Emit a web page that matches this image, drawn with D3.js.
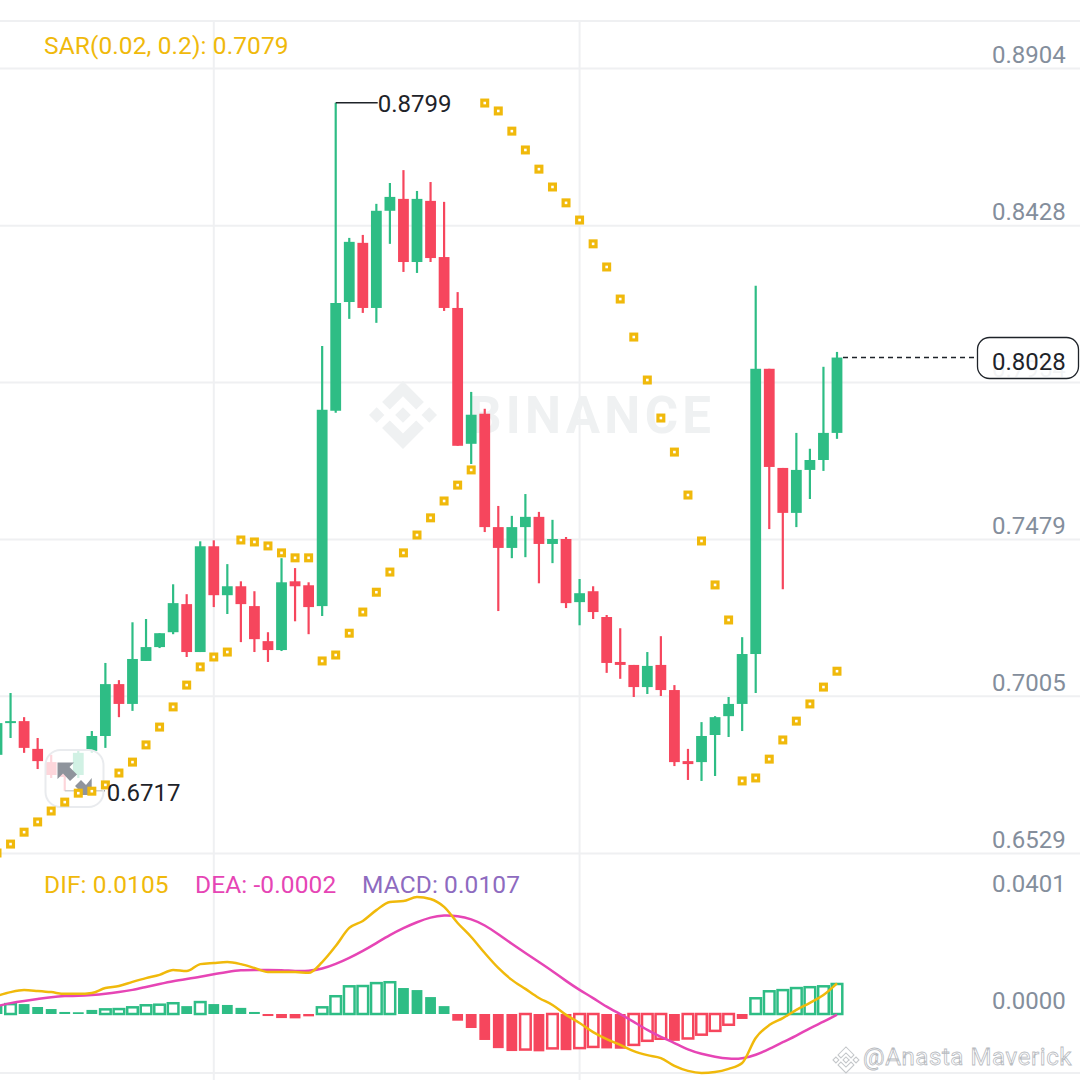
<!DOCTYPE html>
<html>
<head>
<meta charset="utf-8">
<title>SAR MACD</title>
<script src="https://d3js.org/d3.v7.min.js"></script>
<style>
html, body { margin: 0; background: #fff; }
svg { display: block; }
text { font-family: Roboto, sans-serif; }
</style>
</head>
<body>
<div id="my_dataviz"></div>
<script>
// candles, oldest first
var opens = [.6826,.6922,.6928,.6844,.6804,.6777,.6765,.6838,.6883,.7040,.6980,.7110,.7152,.7197,.7282,.7137,.7457,.7309,.7336,.7276,.7170,.7143,.7351,.7339,.7276,.7867,.8196,.8375,.8178,.8472,.8508,.8317,.8502,.8332,.8178,.7767,.7858,.7515,.7452,.7515,.7546,.7464,.7479,.7288,.7321,.7243,.7107,.7098,.7031,.7098,.7022,.6807,.6804,.6886,.6943,.6980,.7131,.7994,.7694,.7558,.7688,.7718,.7800];
var highs = [.6947,.7013,.6940,.6877,.6826,.6786,.6841,.6898,.7104,.7052,.7227,.7237,.7194,.7342,.7312,.7472,.7475,.7403,.7351,.7321,.7197,.7421,.7391,.7348,.8063,.8799,.8390,.8399,.8493,.8556,.8595,.8532,.8559,.8499,.8226,.7924,.7873,.7579,.7549,.7615,.7561,.7537,.7485,.7358,.7336,.7249,.7209,.7098,.7137,.7185,.7037,.6844,.6925,.6943,.7001,.7182,.8245,.7994,.7694,.7800,.7752,.8000,.8045];
var lows = [.6810,.6877,.6832,.6783,.6756,.6717,.6756,.6832,.6847,.6940,.6959,.7110,.7149,.7191,.7122,.7137,.7273,.7252,.7167,.7137,.7107,.7140,.7230,.7191,.7246,.7861,.8145,.8163,.8133,.8372,.8287,.8284,.8317,.8169,.7761,.7706,.7500,.7261,.7421,.7424,.7345,.7406,.7270,.7218,.7237,.7074,.7056,.7001,.7010,.7004,.6792,.6750,.6747,.6762,.6880,.6898,.7013,.7509,.7327,.7515,.7600,.7685,.7782];
var closes = [.6922,.6928,.6847,.6807,.6765,.6759,.6832,.6883,.7040,.6980,.7116,.7152,.7194,.7285,.7137,.7457,.7309,.7336,.7282,.7176,.7143,.7348,.7336,.7273,.7870,.8193,.8378,.8178,.8472,.8514,.8317,.8508,.8329,.8178,.7761,.7855,.7515,.7452,.7515,.7546,.7464,.7479,.7285,.7315,.7258,.7104,.7098,.7031,.7095,.7022,.6804,.6798,.6883,.6940,.6980,.7131,.7994,.7697,.7558,.7688,.7718,.7800,.8028];

var sar = [.6529,.6556,.6592,.6623,.6656,.6683,.6710,.6716,.6735,.6771,.6804,.6856,.6910,.6971,.7037,.7092,.7122,.7137,.7476,.7470,.7458,.7437,.7422,.7422,.7110,.7128,.7194,.7258,.7318,.7379,.7437,.7491,.7543,.7594,.7642,.7688,.8798,.8774,.8713,.8656,.8598,.8544,.8496,.8444,.8372,.8302,.8205,.8090,.7960,.7845,.7742,.7612,.7473,.7340,.7234,.6747,.6756,.6813,.6871,.6928,.6980,.7031,.7079];

var dif = [.0062,.0075,.0082,.0079,.0075,.0069,.0069,.0072,.0089,.0096,.0110,.0123,.0134,.0151,.0147,.0171,.0175,.0178,.0171,.0158,.0144,.0144,.0144,.0141,.0178,.0233,.0295,.0319,.0356,.0384,.0387,.0401,.0394,.0367,.0312,.0264,.0209,.0158,.0117,.0086,.0055,.0031,-.0003,-.0031,-.0062,-.0086,-.0106,-.0127,-.0141,-.0151,-.0178,-.0195,-.0202,-.0199,-.0188,-.0168,-.0082,-.0038,-.0014,.0014,.0038,.0065,.0105];
var dea = [.0027,.0038,.0045,.0051,.0058,.0062,.0062,.0065,.0069,.0075,.0082,.0093,.0103,.0113,.0120,.0127,.0137,.0144,.0151,.0151,.0151,.0151,.0147,.0147,.0154,.0171,.0192,.0216,.0243,.0271,.0295,.0315,.0332,.0339,.0336,.0326,.0305,.0274,.0240,.0209,.0178,.0147,.0113,.0082,.0055,.0024,.0000,-.0027,-.0055,-.0079,-.0099,-.0123,-.0137,-.0147,-.0154,-.0154,-.0141,-.0120,-.0096,-.0075,-.0048,-.0027,-.0002];
var hist = [.0031,.0038,.0034,.0024,.0017,.0007,.0006,.0014,.0020,.0021,.0027,.0034,.0036,.0041,.0027,.0045,.0034,.0031,.0021,.0007,-.0007,-.0014,-.0015,-.0008,.0027,.0065,.0099,.0100,.0110,.0113,.0089,.0082,.0058,.0027,-.0023,-.0048,-.0089,-.0117,-.0127,-.0126,-.0128,-.0122,-.0124,-.0121,-.0117,-.0118,-.0119,-.0110,-.0096,-.0089,-.0092,-.0088,-.0075,-.0062,-.0041,-.0017,.0058,.0082,.0086,.0093,.0096,.0099,.0107];

var priceTicks = [.8904,.8428,.7954,.7479,.7005,.6529];
var macdTicks = [.0401,0];
var timeGrid = [16,43];

var width = 1080, height = 1080;
var green = "#2ebd85", red = "#f6465d", gold = "#f0b90b", pink = "#e645b5", purple = "#8e6bbf";
var gridColor = "#eff0f2", axisColor = "#848e9c", ink = "#1e2329";
var logoPath = "M38.73 53.2L63.3 28.63l24.58 24.58 14.3-14.3L63.3 0 24.43 38.9l14.3 14.3zM0 63.3l14.3-14.3 14.3 14.3-14.3 14.3zM38.73 73.4l24.57 24.57 24.58-24.57 14.31 14.29-38.89 38.9-38.9-38.88zM98 63.3l14.3-14.3 14.3 14.3-14.3 14.3zM77.8 63.3L63.3 48.8 52.6 59.5l-1.24 1.23-2.53 2.54 14.47 14.46 14.5-14.5z";

var svg = d3.select("#my_dataviz").append("svg")
  .attr("width", width)
  .attr("height", height);

var x = d3.scaleLinear().domain([0, 62]).range([-3, 837]);
var y = d3.scaleLinear().domain([.8904, .6529]).range([68, 853]);
var macdY = d3.scaleLinear().domain([.0401, 0]).range([897, 1014]);

// plain hyphen for negatives, as on the exchange screen
var f4 = function(v) { return d3.format(".4f")(v).replace("\u2212", "-"); };

// grid + right labels
function styleAxis(g) {
  g.select(".domain").remove();
  g.selectAll(".tick line").attr("stroke", gridColor).attr("stroke-width", 2);
  g.selectAll(".tick text")
    .attr("x", 992).attr("y", -14).attr("dy", ".35em")
    .attr("text-anchor", "start")
    .attr("fill", axisColor)
    .style("font-size", "24px");
}
svg.append("g")
  .call(d3.axisRight(y).tickValues(priceTicks).tickSize(width).tickFormat(f4))
  .call(styleAxis);
var macdAxis = svg.append("g")
  .call(d3.axisRight(macdY).tickValues(macdTicks).tickSize(width).tickFormat(f4))
  .call(styleAxis);
macdAxis.selectAll(".tick line").remove();

svg.selectAll(".vgrid").data(timeGrid).enter().append("line")
  .attr("class", "vgrid")
  .attr("x1", function(d) { return x(d); })
  .attr("x2", function(d) { return x(d); })
  .attr("y1", 21).attr("y2", height)
  .attr("stroke", gridColor).attr("stroke-width", 2);
svg.selectAll(".hedge").data([21, 1073]).enter().append("line")
  .attr("x1", 0).attr("x2", width)
  .attr("y1", function(d) { return d; }).attr("y2", function(d) { return d; })
  .attr("stroke", gridColor).attr("stroke-width", 2);

// BINANCE watermark
svg.append("path").attr("d", logoPath)
  .attr("transform", "translate(369,381) scale(.537)")
  .attr("fill", "#eff1f2");
svg.append("text").attr("x", 469).attr("y", 433)
  .attr("fill", "#eff1f2")
  .style("font-size", "51px").style("font-weight", 700).style("letter-spacing", "4.3px")
  .text("BINANCE");

// candles
var isUp = function(i) { return closes[i] >= opens[i]; };
svg.append("g").selectAll("line").data(opens).enter().append("line")
  .attr("x1", function(d, i) { return x(i); })
  .attr("x2", function(d, i) { return x(i); })
  .attr("y1", function(d, i) { return y(highs[i]); })
  .attr("y2", function(d, i) { return y(lows[i]); })
  .attr("stroke", function(d, i) { return isUp(i) ? green : red; })
  .attr("stroke-width", 2.2);
svg.append("g").selectAll("rect").data(opens).enter().append("rect")
  .attr("x", function(d, i) { return x(i) - 5.4; })
  .attr("width", 10.8)
  .attr("y", function(d, i) { return y(Math.max(opens[i], closes[i])); })
  .attr("height", function(d, i) { return Math.max(1.5, Math.abs(y(opens[i]) - y(closes[i]))); })
  .attr("fill", function(d, i) { return isUp(i) ? green : red; });

// low marker sits under the expand button
var lowIdx = d3.minIndex(lows), highIdx = d3.maxIndex(highs);
svg.append("line")
  .attr("x1", x(lowIdx)).attr("x2", x(lowIdx) + 40)
  .attr("y1", y(lows[lowIdx])).attr("y2", y(lows[lowIdx]))
  .attr("stroke", ink).attr("stroke-width", 1.5);

// expand button
svg.append("rect")
  .attr("x", 45.5).attr("y", 750).attr("width", 58).attr("height", 57).attr("rx", 15)
  .attr("fill", "rgba(255,255,255,.78)")
  .attr("stroke", "#e9ebee").attr("stroke-width", 2);
svg.append("path")
  .attr("d", "M57.5 762.5H74L69.5 767L77 774.5L70 781L63 773.500L57.5 779Z")
  .attr("fill", "#8f949c");
svg.append("path")
  .attr("d", "M91.700 795H75L79.500 790.500L75 786L81 780L86 785L91.700 778Z")
  .attr("fill", "#8f949c");

// SAR dots
svg.append("g").selectAll("rect").data(sar).enter().append("rect")
  .attr("x", function(d, i) { return x(i) - 2.9; })
  .attr("y", function(d) { return y(d) - 2.9; })
  .attr("width", 5.8).attr("height", 5.8)
  .attr("fill", "#fff").attr("stroke", gold).attr("stroke-width", 3.2);

// high / low labels
svg.append("line")
  .attr("x1", x(highIdx)).attr("x2", x(highIdx) + 42)
  .attr("y1", y(highs[highIdx])).attr("y2", y(highs[highIdx]))
  .attr("stroke", ink).attr("stroke-width", 1.5);
svg.append("text").attr("x", x(highIdx) + 42).attr("y", y(highs[highIdx]) + 1).attr("dy", ".36em")
  .attr("fill", ink).style("font-size", "24px")
  .text(f4(highs[highIdx]));
svg.append("text").attr("x", x(lowIdx) + 42).attr("y", y(lows[lowIdx]) + 1.5).attr("dy", ".36em")
  .attr("fill", ink).style("font-size", "24px")
  .text(f4(lows[lowIdx]));

// last price
var lastClose = closes[closes.length - 1], lastX = x(closes.length - 1);
svg.append("line")
  .attr("x1", lastX + 6).attr("x2", 977)
  .attr("y1", y(lastClose)).attr("y2", y(lastClose))
  .attr("stroke", ink).attr("stroke-width", 1.5).attr("stroke-dasharray", "5 4");
svg.append("rect")
  .attr("x", 977.5).attr("y", 337.5).attr("width", 101).attr("height", 41).attr("rx", 12)
  .attr("fill", "rgba(255,255,255,.9)")
  .attr("stroke", ink).attr("stroke-width", 1.3);
svg.append("text").attr("x", 992).attr("y", 361.5).attr("dy", ".35em")
  .attr("fill", ink).style("font-size", "24px")
  .text(f4(lastClose));

// MACD histogram, hollow while the value is rising
svg.append("g").selectAll("rect").data(hist).enter().append("rect")
  .each(function(d, i) {
    var rising = i > 0 && d > hist[i - 1];
    var color = d >= 0 ? green : red;
    var y0 = macdY(0), y1 = macdY(d);
    var top = Math.min(y0, y1), h = Math.abs(y0 - y1);
    if (rising && h > 5) {
      d3.select(this)
        .attr("x", x(i) - 5.3).attr("width", 10.6)
        .attr("y", top + (d > 0 ? 1.2 : 0)).attr("height", h - 1.2)
        .attr("fill", "#fff").attr("stroke", color).attr("stroke-width", 2.5);
    } else {
      d3.select(this)
        .attr("x", x(i) - 5.4).attr("width", 10.8)
        .attr("y", top).attr("height", Math.max(h, 1.5))
        .attr("fill", color);
    }
  });

var macdLine = d3.line()
  .x(function(d, i) { return x(i); })
  .y(function(d) { return macdY(d); })
  .curve(d3.curveMonotoneX);
svg.append("path").attr("d", macdLine.curve(d3.curveBasis)(dea))
  .attr("fill", "none").attr("stroke", pink).attr("stroke-width", 2.5);
svg.append("path").attr("d", macdLine.curve(d3.curveMonotoneX)(dif))
  .attr("fill", "none").attr("stroke", gold).attr("stroke-width", 2.5);

// legends
function legend(lx, ly, color, str) {
  svg.append("text").attr("x", lx).attr("y", ly).attr("dy", ".35em")
    .attr("fill", color).style("font-size", "24.500px").style("letter-spacing", ".1px").text(str);
}
legend(44, 45, gold, "SAR(0.02, 0.2): " + f4(sar[sar.length - 1]));
legend(44, 884, gold, "DIF: " + f4(dif[dif.length - 1]));
legend(195, 884, pink, "DEA: " + f4(dea[dea.length - 1]));
legend(362, 884, purple, "MACD: " + f4(hist[hist.length - 1]));

// author watermark
svg.append("path").attr("d", logoPath)
  .attr("transform", "translate(833,1047) scale(.205)")
  .attr("fill", "#fff").attr("stroke", "#c4c7ca").attr("stroke-width", 5);
svg.append("text").attr("x", 863).attr("y", 1065)
  .attr("fill", "#fff").attr("stroke", "#b8bbbf").attr("stroke-width", .8)
  .style("font-size", "24px").style("letter-spacing", ".6px")
  .text("@Anasta Maverick");
</script>
</body>
</html>
